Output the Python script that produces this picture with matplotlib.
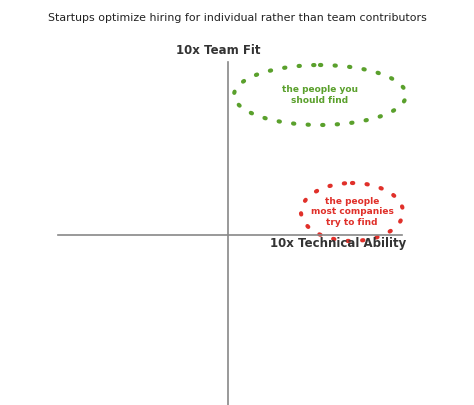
import matplotlib.pyplot as plt
from matplotlib.patches import Ellipse

title = 'Startups optimize hiring for individual rather than team contributors'
axis_labels = ['10x Team Fit', '10x Technical Ability']
# ellipse groups: label, centre (x, y), width, height, colour
groups = ['the people you\nshould find', 'the people\nmost companies\ntry to find']
centres = [(320, 95), (352, 212)]
widths = [172, 102]
heights = [60, 58]
colours = ['#5aa02c', '#e0302a']

fig = plt.figure(figsize=(4.74, 4.05), dpi=100)
ax = fig.add_axes([0, 0, 1, 1])
ax.set_xlim(0, 474)
ax.set_ylim(405, 0)
ax.axis('off')

ax.text(237, 18, title, ha='center', va='center', fontsize=7.9, color='#222222')

# axes cross
ax.plot([228, 228], [62, 405], color='#888888', lw=1.2)
ax.plot([58, 402], [235, 235], color='#888888', lw=1.2)
ax.text(218, 50, axis_labels[0], ha='center', va='center', fontsize=8.5, fontweight='bold', color='#333333')
ax.text(338, 244, axis_labels[1], ha='center', va='center', fontsize=8.5, fontweight='bold', color='#333333')

for label, c, w, h, col in zip(groups, centres, widths, heights, colours):
    e = Ellipse(c, w, h, fill=False, edgecolor=col, lw=3, linestyle=(0, (0.3, 3.2)), capstyle='round')
    ax.add_patch(e)
    ax.text(c[0], c[1], label, ha='center', va='center', fontsize=6.5, fontweight='bold', color=col, linespacing=1.2)

fig.savefig('out.png', dpi=100)
